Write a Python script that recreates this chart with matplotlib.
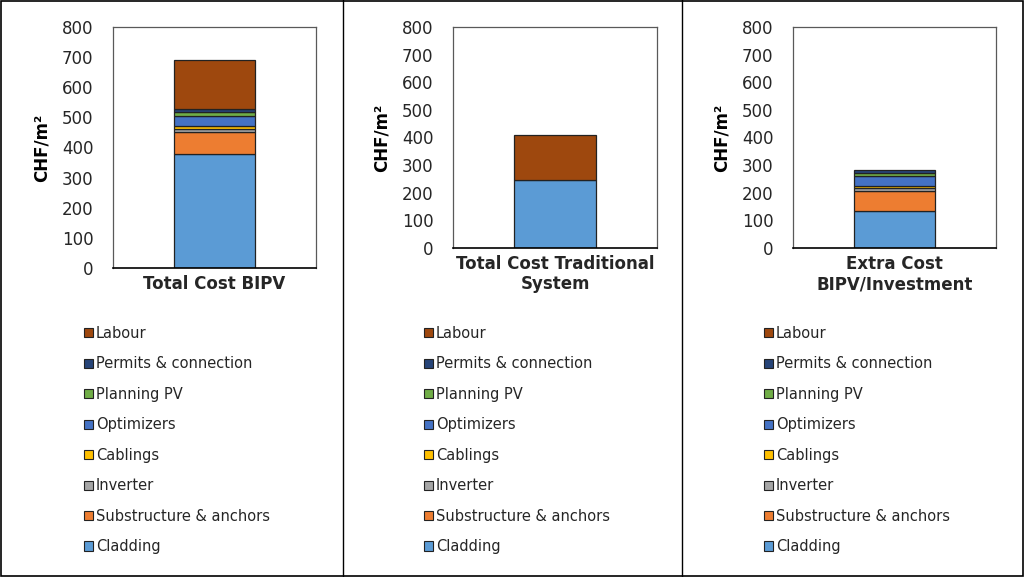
import matplotlib
matplotlib.use("Agg")
import matplotlib.pyplot as plt
from matplotlib.patches import Patch
from matplotlib.lines import Line2D

plt.rcParams["font.family"] = ["DejaVu Sans"]

# components, bottom to top
components = ["Cladding", "Substructure & anchors", "Inverter", "Cablings",
              "Optimizers", "Planning PV", "Permits & connection", "Labour"]
colors = ["#5B9BD5", "#ED7D31", "#A5A5A5", "#FFC000",
          "#4472C4", "#70AD47", "#264478", "#9E480E"]

# CHF/m2
bipv = [380, 73, 10, 7, 35, 12, 10, 165]
traditional = [245, 0, 0, 0, 0, 0, 0, 165]
extra = [135, 73, 10, 7, 35, 12, 10, 0]

panels = [
    ("Total Cost BIPV", bipv),
    ("Total Cost Traditional\nSystem", traditional),
    ("Extra Cost\nBIPV/Investment", extra),
]

fig = plt.figure(figsize=(10.24, 5.77), dpi=100)
W, H = 1024, 577

# axes boxes in pixels: left, top, right, bottom
boxes = [(113, 27, 316, 268), (453, 27, 657, 248), (793, 27, 996, 248)]

for (title, vals), (l, t, r, b) in zip(panels, boxes):
    ax = fig.add_axes([l / W, 1 - b / H, (r - l) / W, (b - t) / H])
    bottom = 0
    for v, c in zip(vals, colors):
        if v > 0:
            ax.bar(0, v, width=0.4, bottom=bottom, color=c,
                   edgecolor="#222222", linewidth=0.9, zorder=2)
        bottom += v
    ax.set_xlim(-0.5, 0.5)
    ax.set_ylim(0, 800)
    ax.set_yticks(range(0, 801, 100))
    ax.set_xticks([0])
    ax.set_xticklabels([title], fontsize=11, fontweight="bold", linespacing=1.15)
    ax.tick_params(axis="both", length=0, labelsize=12, labelcolor="#262626")
    ax.tick_params(axis="y", pad=14)
    ax.tick_params(axis="x", pad=5)
    for s in ["top", "left", "right"]:
        ax.spines[s].set_color("#595959")
        ax.spines[s].set_linewidth(0.9)
    ax.spines["bottom"].set_color("black")
    ax.spines["bottom"].set_linewidth(1.2)
    ax.set_ylabel("CHF/m²", fontsize=12, fontweight="bold", labelpad=8)

    handles = [Patch(facecolor=c, edgecolor="#222222", linewidth=0.8)
               for c in colors][::-1]
    fig.legend(handles, components[::-1], loc="upper left",
               bbox_to_anchor=((l - 29) / W, 1 - 326 / H),
               frameon=False, fontsize=10.5, handlelength=0.6,
               handleheight=0.6, handletextpad=0.2, labelspacing=1.06,
               borderaxespad=0, borderpad=0, labelcolor="#262626")

# panel frame and dividers
for x in [343, 682]:
    fig.add_artist(Line2D([x / W, x / W], [0, 1], color="black", linewidth=1))
fig.add_artist(plt.Rectangle((0.001, 0.002), 0.998, 0.996, fill=False,
                             edgecolor="black", linewidth=1.2,
                             transform=fig.transFigure))

fig.savefig("out.png", dpi=100)
